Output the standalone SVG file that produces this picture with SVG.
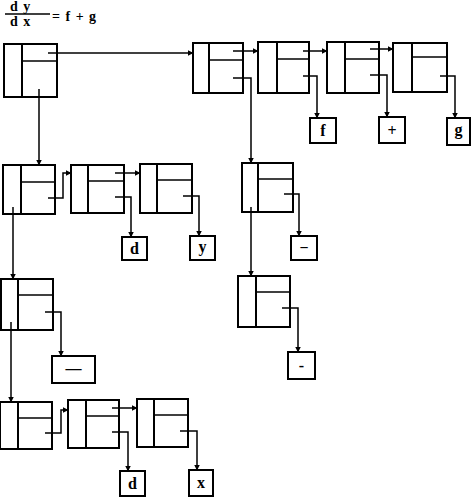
<svg xmlns="http://www.w3.org/2000/svg" width="474" height="497" viewBox="0 0 474 497">
<style>
.cell{fill:none;stroke:#000;stroke-width:2}
.div{stroke:#000;stroke-width:2}
.hl{stroke:#000;stroke-width:1.5}
.con{fill:none;stroke:#000;stroke-width:1.5;marker-end:url(#ah)}
.box{fill:#fff;stroke:#000;stroke-width:2}
.lbl{font-family:"Liberation Serif",serif;font-weight:bold;font-size:16px;text-anchor:middle}
.t{font-family:"Liberation Serif",serif;font-weight:bold;font-size:14px;letter-spacing:1px}
</style>
<defs>
<marker id="ah" viewBox="0 0 6 6" refX="5.5" refY="3" markerWidth="4" markerHeight="4" orient="auto" markerUnits="strokeWidth">
<path d="M0,0 L6,3 L0,6 Z" fill="#000"/>
</marker>
</defs>
<rect width="474" height="497" fill="#fff"/>
<g id="title">
<text class="t" x="10" y="11">d  y</text>
<line x1="5" y1="14" x2="50" y2="14" stroke="#000" stroke-width="1.3"/>
<text class="t" x="10" y="26">d  x</text>
<text class="t" x="52" y="21">= f + g</text>
</g>
<g id="connectors">
<polyline class="con" points="48,53 193,53"/>
<polyline class="con" points="39,89 39,165"/>
<polyline class="con" points="233,51 258,51"/>
<polyline class="con" points="233,78 251,78 251,163"/>
<polyline class="con" points="303,51 327,51"/>
<polyline class="con" points="303,76 317,76 317,118"/>
<polyline class="con" points="370,49 393,49"/>
<polyline class="con" points="370,75 387,75 387,117"/>
<polyline class="con" points="440,76 455,76 455,118"/>
<polyline class="con" points="48,198 63,198 63,173 71,173"/>
<polyline class="con" points="13,207 13,279"/>
<polyline class="con" points="115,173 140,173"/>
<polyline class="con" points="115,197 131,197 131,237"/>
<polyline class="con" points="183,196 199,196 199,236"/>
<polyline class="con" points="284,194 299,194 299,236"/>
<polyline class="con" points="251,207 251,276"/>
<polyline class="con" points="282,308 298,308 298,352"/>
<polyline class="con" points="45,312 61,312 61,356"/>
<polyline class="con" points="11,322 11,402"/>
<polyline class="con" points="45,433 61,433 61,410 68,410"/>
<polyline class="con" points="112,408 137,408"/>
<polyline class="con" points="112,432 128,432 128,471"/>
<polyline class="con" points="180,431 197,431 197,470"/>
</g>
<g id="n-root"><rect class="cell" x="4" y="44" width="53" height="53"/><line class="div" x1="22" y1="44" x2="22" y2="97"/><line class="hl" x1="22" y1="61" x2="57" y2="61"/></g>
<g id="n-a"><rect class="cell" x="193" y="43" width="50" height="50"/><line class="div" x1="209" y1="43" x2="209" y2="93"/><line class="hl" x1="209" y1="60" x2="243" y2="60"/></g>
<g id="n-b"><rect class="cell" x="258" y="42" width="51" height="51"/><line class="div" x1="277" y1="42" x2="277" y2="93"/><line class="hl" x1="277" y1="59" x2="309" y2="59"/></g>
<g id="n-c"><rect class="cell" x="327" y="42" width="52" height="51"/><line class="div" x1="345" y1="42" x2="345" y2="93"/><line class="hl" x1="345" y1="59" x2="379" y2="59"/></g>
<g id="n-d"><rect class="cell" x="393" y="43" width="54" height="49"/><line class="div" x1="412" y1="43" x2="412" y2="92"/><line class="hl" x1="412" y1="57" x2="447" y2="57"/></g>
<g id="n-2"><rect class="cell" x="3" y="165" width="52" height="49"/><line class="div" x1="21" y1="165" x2="21" y2="214"/><line class="hl" x1="21" y1="182" x2="55" y2="182"/></g>
<g id="n-3"><rect class="cell" x="71" y="165" width="53" height="48"/><line class="div" x1="88" y1="165" x2="88" y2="213"/><line class="hl" x1="88" y1="181" x2="124" y2="181"/></g>
<g id="n-4"><rect class="cell" x="140" y="164" width="52" height="49"/><line class="div" x1="157" y1="164" x2="157" y2="213"/><line class="hl" x1="157" y1="180" x2="192" y2="180"/></g>
<g id="n-e"><rect class="cell" x="242" y="163" width="51" height="49"/><line class="div" x1="258" y1="163" x2="258" y2="212"/><line class="hl" x1="258" y1="179" x2="293" y2="179"/></g>
<g id="n-f"><rect class="cell" x="238" y="276" width="52" height="51"/><line class="div" x1="256" y1="276" x2="256" y2="327"/><line class="hl" x1="256" y1="292" x2="290" y2="292"/></g>
<g id="n-g"><rect class="cell" x="1" y="279" width="52" height="51"/><line class="div" x1="18" y1="279" x2="18" y2="330"/><line class="hl" x1="18" y1="295" x2="53" y2="295"/></g>
<g id="n-h"><rect class="cell" x="0" y="402" width="52" height="47"/><line class="div" x1="18" y1="402" x2="18" y2="449"/><line class="hl" x1="18" y1="418" x2="52" y2="418"/></g>
<g id="n-i"><rect class="cell" x="68" y="400" width="51" height="48"/><line class="div" x1="86" y1="400" x2="86" y2="448"/><line class="hl" x1="86" y1="416" x2="119" y2="416"/></g>
<g id="n-j"><rect class="cell" x="137" y="399" width="51" height="48"/><line class="div" x1="154" y1="399" x2="154" y2="447"/><line class="hl" x1="154" y1="415" x2="188" y2="415"/></g>
<g id="a-f"><rect class="box" x="310" y="118" width="26" height="25"/><text class="lbl" x="323" y="136">f</text></g>
<g id="a-plus"><rect class="box" x="379" y="117" width="26" height="26"/><text class="lbl" x="392" y="136">+</text></g>
<g id="a-g"><rect class="box" x="447" y="118" width="23" height="27"/><text class="lbl" x="458.500" y="135">g</text></g>
<g id="a-d1"><rect class="box" x="122" y="237" width="25" height="23"/><text class="lbl" x="134.500" y="254">d</text></g>
<g id="a-y"><rect class="box" x="190" y="236" width="25" height="24"/><text class="lbl" x="202.500" y="252">y</text></g>
<g id="a-minus1"><rect class="box" x="291" y="236" width="26" height="24"/><text class="lbl" x="304" y="253">−</text></g>
<g id="a-minus2"><rect class="box" x="288" y="352" width="27" height="27"/><text class="lbl" x="301.500" y="371">-</text></g>
<g id="a-dash"><rect class="box" x="52" y="356" width="43" height="27"/><text class="lbl" x="73.500" y="374">—</text></g>
<g id="a-d2"><rect class="box" x="120" y="471" width="25" height="25"/><text class="lbl" x="132.500" y="489">d</text></g>
<g id="a-x"><rect class="box" x="189" y="470" width="24" height="26"/><text class="lbl" x="201" y="488">x</text></g>
</svg>
